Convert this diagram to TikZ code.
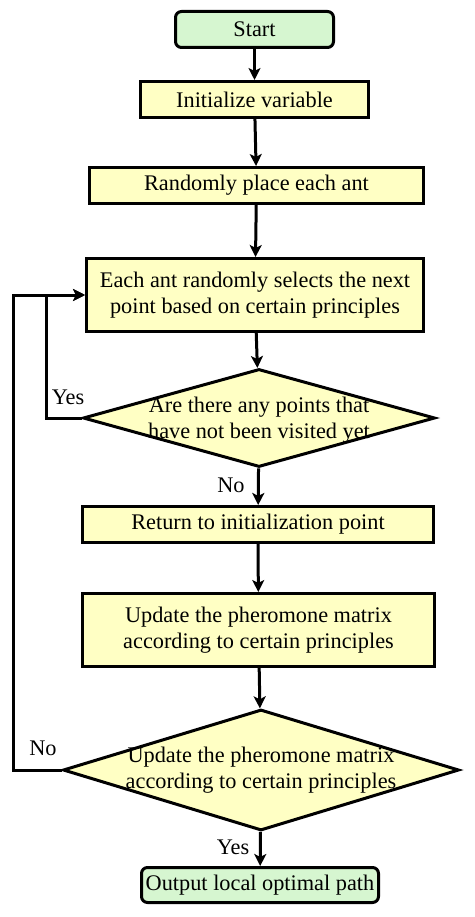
\documentclass[tikz,border=0pt]{standalone}
\usepackage{fontspec}
\setmainfont{Liberation Serif}
\usetikzlibrary{shapes.geometric,arrows.meta}
\definecolor{boxyellow}{RGB}{255,255,196}
\definecolor{boxgreen}{RGB}{214,246,208}
\tikzset{
  base/.style={draw=black, line width=3pt, inner sep=0pt, align=center,
    font=\fontsize{22.3}{26.5}\selectfont},
  procbox/.style={base, rectangle, fill=boxyellow},
  termbox/.style={base, rectangle, rounded corners=6pt, fill=boxgreen},
  decbox/.style={base, diamond, fill=boxyellow},
  arr/.style={line width=3pt, -{Stealth[length=12pt,width=12pt,inset=3pt]}},
  lbl/.style={font=\fontsize{22.3}{26.5}\selectfont, inner sep=0pt}
}
\begin{document}
\begin{tikzpicture}[x=1pt,y=-1pt]
\useasboundingbox (0,0) rectangle (474,917);
\node[termbox, minimum width=158pt, minimum height=36pt] (start) at (254.5,29.5) {Start};
\node[procbox, minimum width=228pt, minimum height=36pt] (init) at (254.5,99.5) {Initialize variable};
\node[procbox, minimum width=334pt, minimum height=36pt] (place) at (256.5,185.5) {Randomly place each ant};
\node[procbox, minimum width=337pt, minimum height=73pt] (each) at (255,295) {Each ant randomly selects the next\\point based on certain principles};
\node[decbox, minimum width=352pt, minimum height=98pt,
  label={[lbl, align=center, yshift=-2pt]center:Are there any points that\\have not been visited yet}] (d1) at (259,418) {};
\node[procbox, minimum width=351pt, minimum height=36pt] (ret) at (258,524.5) {Return to initialization point};
\node[procbox, minimum width=352pt, minimum height=73pt] (upd) at (258.5,630) {Update the pheromone matrix\\according to certain principles};
\node[decbox, minimum width=396pt, minimum height=121pt,
  label={[lbl, align=center]center:Update the pheromone matrix\\according to certain principles}] (d2) at (261,770) {};
\node[termbox, minimum width=237pt, minimum height=35pt] (out) at (260,885) {Output local optimal path};

\draw[arr] (start) -- (init);
\draw[arr] (init) -- (place);
\draw[arr] (place) -- (each);
\draw[arr] (each) -- (d1);
\draw[arr] (d1) -- (ret);
\draw[arr] (ret) -- (upd);
\draw[arr] (upd) -- (d2);
\draw[arr] (d2) -- (out);
\draw[arr] (d1.west) -- ++(-35,0) |- (each.west);
\draw[arr] (d2.west) -- ++(-48,0) |- (each.west);

\node[lbl] (yes1) at (68,397) {Yes};
\node[lbl] (no1) at (231,485) {No};
\node[lbl] (no2) at (43,748) {No};
\node[lbl] (yes2) at (233,847) {Yes};
\end{tikzpicture}
\end{document}
